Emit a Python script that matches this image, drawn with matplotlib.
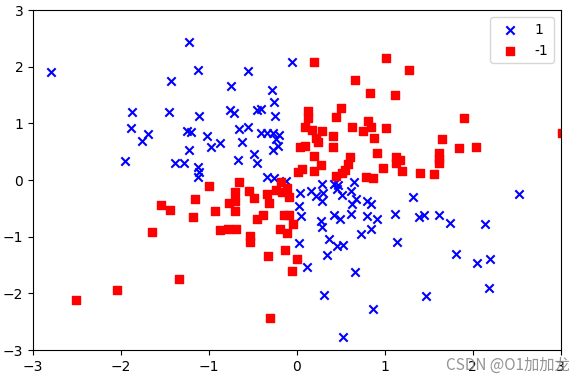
import numpy as np
import matplotlib
matplotlib.use('Agg')
import matplotlib.pyplot as plt

# class 1 (blue x)
x_pos = [-1.23, -2.80, -1.12, -1.43, -1.87, -1.45, -1.11, -1.89, -1.69, -1.76,
         -1.25, -1.20, -1.02, -0.98, -1.23, -1.95, -1.39, -1.28, -1.12, -1.11,
         -1.12, -0.05, -0.56, -0.75, -0.28, -0.26, -0.76, -0.71, -0.45, -0.41,
         -0.25, -0.66, -0.56, -0.41, -0.34, -0.27, -0.20, -0.24, -0.22, -0.27,
         -0.87, -0.62, -0.49, -0.45, -0.67, -0.34, -0.26, -0.12, 0.03, 0.16,
         0.28, 0.42, 0.47, 0.65, 0.22, 0.30, 0.29, 0.46, 0.51, 0.61,
         0.67, 0.63, 0.61, 0.80, 0.84, 0.02, 0.05, 0.42, 0.49, 0.27,
         0.29, 0.80, 0.91, 1.11, 0.84, 0.73, 0.02, 0.36, 0.46, 0.52,
         0.34, 1.14, 0.11, 0.66, 0.31, 0.86, 0.52, 1.32, 2.53, 1.39,
         1.45, 1.62, 1.74, 2.14, 1.81, 2.05, 2.19, 2.18, 1.47]
y_pos = [2.43, 1.91, 1.94, 1.75, 1.21, 1.21, 1.14, 0.92, 0.81, 0.69,
         0.87, 0.85, 0.78, 0.59, 0.53, 0.34, 0.31, 0.31, 0.23, 0.14,
         0.06, 2.09, 1.93, 1.67, 1.60, 1.38, 1.24, 1.19, 1.23, 1.26,
         1.14, 0.90, 0.93, 0.83, 0.83, 0.83, 0.80, 0.73, 0.61, 0.54,
         0.65, 0.68, 0.46, 0.31, 0.36, 0.05, 0.04, -0.01, -0.22, -0.20,
         -0.06, -0.06, -0.09, -0.04, -0.28, -0.22, -0.37, -0.15, -0.27, -0.19,
         -0.33, -0.42, -0.59, -0.37, -0.42, -0.46, -0.64, -0.61, -0.69, -0.73,
         -0.83, -0.63, -0.68, -0.59, -0.86, -0.95, -1.11, -1.04, -1.16, -1.14,
         -1.32, -1.09, -1.54, -1.63, -2.03, -2.28, -2.77, -0.30, -0.25, -0.66,
         -0.61, -0.61, -0.75, -0.78, -1.31, -1.46, -1.39, -1.90, -2.04]

# class -1 (red squares)
x_neg = [0.19, 1.01, 1.28, 0.66, 0.83, 1.12, 0.50, 0.13, 0.13, 0.44,
         0.81, 0.09, 0.17, 0.28, 0.63, 0.75, 0.84, 0.88, 1.01, 0.41,
         0.22, 0.24, 0.41, 0.09, 0.03, 0.91, 0.19, 0.60, 1.13, 1.17,
         1.13, 0.58, 0.55, 0.27, 0.98, 1.20, 0.06, 0.01, 0.19, 0.44,
         0.51, 0.79, 0.86, -0.18, -0.66, 1.90, 1.65, 1.84, 2.04, 1.62,
         1.62, 1.62, 1.40, 1.56, 3.01,
         -1.00, -0.70, -0.55, -0.49, -0.34, -0.17, -0.09, -0.24, -0.11, -0.32,
         -0.93, -0.77, -0.70, -0.70, -0.38, -0.45, -0.15, -0.09, -0.87, -0.78,
         -0.69, -0.53, -0.53, -0.19, -0.11, -0.04, -0.13, -0.33, 0.00, -0.05,
         -0.31, -1.54, -1.44, -1.16, -1.18, -1.65, -1.34, -2.04, -2.51]
y_neg = [2.09, 2.16, 1.94, 1.77, 1.53, 1.50, 1.28, 1.22, 1.10, 1.12,
         1.04, 0.93, 0.88, 0.87, 0.94, 0.87, 0.93, 0.75, 0.92, 0.78,
         0.74, 0.68, 0.58, 0.60, 0.58, 0.48, 0.42, 0.41, 0.41, 0.35,
         0.30, 0.29, 0.18, 0.27, 0.22, 0.16, 0.20, 0.15, 0.16, 0.08,
         0.12, 0.06, 0.04, -0.03, -0.03, 1.09, 0.72, 0.56, 0.59, 0.47,
         0.38, 0.31, 0.12, 0.10, 0.83,
         -0.11, -0.21, -0.19, -0.32, -0.24, -0.21, -0.30, -0.18, -0.14, -0.40,
         -0.54, -0.41, -0.54, -0.37, -0.62, -0.69, -0.61, -0.61, -0.88, -0.87,
         -0.87, -0.99, -1.09, -0.87, -0.94, -0.78, -1.24, -1.34, -1.40, -1.60,
         -2.43, -0.44, -0.52, -0.34, -0.66, -0.91, -1.75, -1.94, -2.12]

fig = plt.figure(figsize=(5.86, 3.87), dpi=100)
ax = fig.add_axes([0.0563, 0.0956, 0.9007, 0.878])

ax.scatter(x_pos, y_pos, c='b', marker='x', label='1')
ax.scatter(x_neg, y_neg, c='r', marker='s', label='-1')

ax.set_xlim(-3, 3)
ax.set_ylim(-3, 3)
ax.legend(loc='best')

# 水印
fig.text(0.972, 0.035, 'CSDN @O1加加龙', ha='right', va='bottom', fontsize=11,
         color='#888888', alpha=0.9, family=['Noto Sans CJK SC', 'DejaVu Sans'])

fig.savefig('out.png', dpi=100)
